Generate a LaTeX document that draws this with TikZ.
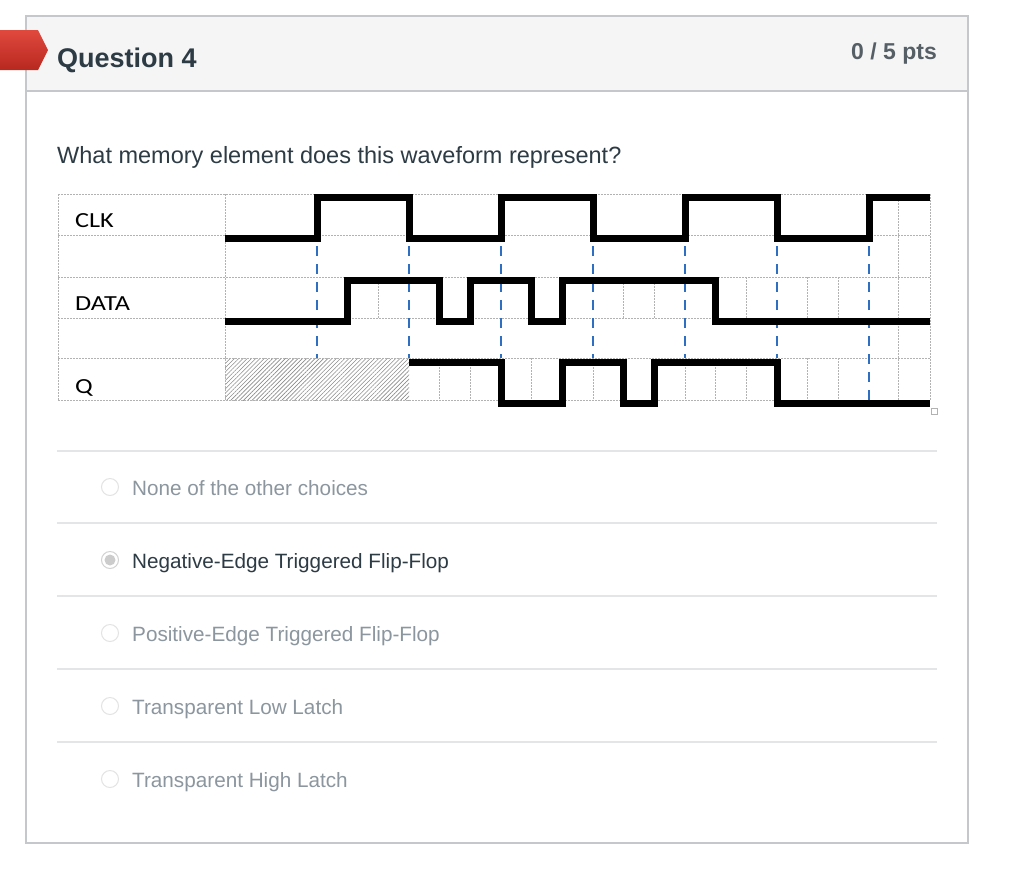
\documentclass[tikz,border=0pt]{standalone}
\usepackage{fontspec}
\setmainfont{Liberation Sans}
\newfontfamily\wavefont{Carlito}
\usetikzlibrary{patterns.meta}
\definecolor{canvasdark}{HTML}{2D3B45}
\definecolor{canvasgray}{HTML}{8B969E}
\definecolor{ptsgray}{HTML}{565F66}
\definecolor{framegray}{HTML}{C4C8CB}
\definecolor{headfill}{HTML}{F5F5F5}
\definecolor{sepgray}{HTML}{E3E5E7}
\definecolor{edgeblue}{HTML}{2F6FC1}
\definecolor{tabtop}{HTML}{E0493E}
\definecolor{tabbot}{HTML}{B8281F}
\def\cw{30.667}
\begin{document}
\begin{tikzpicture}[x=1pt,y=-1pt,
    grid/.style={draw=gray!60, line width=0.7pt, dash pattern=on 2pt off 1pt},
    wave/.style={line width=7pt, line join=miter},
    clkedge/.style={draw=edgeblue, line width=2.8pt, dash pattern=on 10pt off 8pt},
    sig/.style={font=\wavefont\fontsize{21.5}{24}\selectfont, anchor=base west, inner sep=0pt},
    choice/.style={font=\fontsize{20.7}{24}\selectfont, anchor=base west, inner sep=0pt, text=canvasgray},
    radio/.style={circle, draw=gray!22, line width=1pt, minimum size=17pt, inner sep=0pt, fill=white}
    ]
    \useasboundingbox (0,0) rectangle (1024,873);
    % card and header
    \draw[framegray, line width=1.3pt, fill=white] (26,16) rectangle (968,843);
    \draw[framegray, line width=1.3pt, fill=headfill] (26,16) rectangle (968,91);
    \shade[top color=tabtop, bottom color=tabbot] (0,30) -- (38,30) -- (48,50) -- (38,70) -- (0,70) -- cycle;
    \node[anchor=base west, inner sep=0pt, text=canvasdark,
      font=\bfseries\fontsize{27}{30}\selectfont] (title) at (57,67) {Question 4};
    \node[anchor=base east, inner sep=0pt, text=ptsgray,
      font=\bfseries\fontsize{23}{26}\selectfont] (pts) at (937,59) {0 / 5 pts};
    \node[anchor=base west, inner sep=0pt, text=canvasdark,
      font=\fontsize{23.5}{27}\selectfont] (ask) at (57,163) {What memory element does this waveform represent?};

    % timing table
    \fill[pattern={Lines[angle=45, distance=3pt, line width=0.6pt]}, pattern color=gray!90] (225,358) rectangle (409,400);
    \foreach \y in {194,235,277,318,358,400}
      \draw[grid] (58,\y) -- (930,\y);
    \foreach \x in {58,225,898.7,930}
      \draw[grid] (\x,194) -- (\x,400);
    \begin{scope}[shift={(225,0)}, x=\cw pt]
      \foreach \k in {5,13,14,17,19,20}
        \draw[grid] (\k,277) -- (\k,318);
      \foreach \k in {7,8,10,12,15,16,17,19,20}
        \draw[grid] (\k,358) -- (\k,400);
      \foreach \k in {3,6,...,18}
        \draw[clkedge] (\k,246) -- (\k,358);
      \draw[clkedge] (21,246) -- (21,400);
      % waveforms
      \draw[wave] (0,238) -| (3,197) -| (6,238) -| (9,197) -| (12,238) -| (15,197) -| (18,238) -| (21,197) -- (23,197);
      \draw[wave] (0,321) -| (4,280) -| (7,321) -| (8,280) -| (10,321) -| (11,280) -| (16,321) -- (23,321);
      \draw[wave] (6,362) -| (9,403) -| (11,362) -| (13,403) -| (14,362) -| (18,403) -- (23,403);
    \end{scope}
    \draw[gray!60, line width=0.8pt, fill=white] (931,408) rectangle (937,414);
    \node[sig] (clk) at (75,227) {\scalebox{1.22}[1]{CLK}};
    \node[sig] (data) at (75,310) {\scalebox{1.22}[1]{DATA}};
    \node[sig] (q) at (75,393) {\scalebox{1.22}[1]{Q}};

    % answer choices
    \foreach \y in {451,523,596,669,742}
      \draw[sepgray, line width=1.5pt] (57,\y) -- (937,\y);
    \node[radio] (r1) at (110,487) {};
    \node[radio, draw=gray!35] (r2) at (110,560) {};
    \fill[gray!40] (r2.center) circle (5.5pt);
    \node[radio] (r3) at (110,633) {};
    \node[radio] (r4) at (110,706) {};
    \node[radio] (r5) at (110,779) {};
    \node[choice] (c1) at (132,495) {None of the other choices};
    \node[choice, text=canvasdark] (c2) at (132,568) {Negative-Edge Triggered Flip-Flop};
    \node[choice] (c3) at (132,641) {Positive-Edge Triggered Flip-Flop};
    \node[choice] (c4) at (132,714) {Transparent Low Latch};
    \node[choice] (c5) at (132,787) {Transparent High Latch};
\end{tikzpicture}
\end{document}
